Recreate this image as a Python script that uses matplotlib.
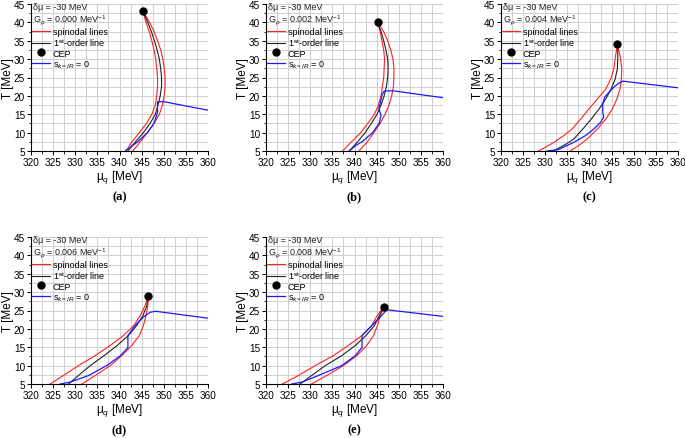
import matplotlib.pyplot as plt
import numpy as np

plt.rcParams['font.family'] = ['Liberation Sans', 'DejaVu Sans']
plt.rcParams['mathtext.fontset'] = 'custom'
plt.rcParams['mathtext.rm'] = 'Liberation Sans'
plt.rcParams['mathtext.it'] = 'Liberation Sans:italic'

# ---- data (mu_q in MeV, T in MeV) ----
g_rho = ["0.000", "0.002", "0.004", "0.006", "0.008"]
panel_tags = ["(a)", "(b)", "(c)", "(d)", "(e)"]

cep_mu = [345.3, 345.2, 346.3, 346.5, 346.6]
cep_T = [43.0, 40.0, 34.0, 29.0, 25.9]

# (a) G = 0.000
T_a = [5, 7.5, 10, 12.5, 15, 17.5, 20, 22.5, 25, 27.5, 30, 32.5, 35, 37.5, 40, 43]
spin_out_a = [343.0, 344.7, 346.3, 347.8, 349.0, 349.7, 350.1, 350.3, 350.3, 350.1, 349.8, 349.3, 348.6, 347.8, 346.8, 345.3]
first_a = [341.9, 343.6, 345.4, 346.9, 348.1, 348.7, 349.2, 349.5, 349.5, 349.3, 349.0, 348.5, 347.9, 347.2, 346.4, 345.3]
spin_in_a = [341.5, 342.8, 344.5, 346.1, 347.3, 348.1, 348.4, 348.6, 348.6, 348.4, 348.2, 347.8, 347.3, 346.7, 346.0, 345.3]
blue_mu_a = [341.3, 344.1, 346.3, 347.8, 348.6, 348.6, 350.1, 360]
blue_T_a = [5, 7.5, 10, 12.5, 15.6, 18.4, 18.4, 16.1]

# (b) G = 0.002
T_b = [5, 7.5, 10, 12.5, 15, 17.5, 20, 22.5, 25, 27.5, 30, 32.5, 35, 37.5, 40]
spin_in_b = [337.3, 339.3, 341.4, 343.0, 344.5, 345.4, 346.0, 346.3, 346.6, 346.7, 346.8, 346.6, 346.2, 345.8, 345.2]
first_b = [338.8, 340.7, 342.4, 343.8, 345.1, 346.0, 346.7, 347.2, 347.5, 347.6, 347.5, 347.1, 346.6, 346.0, 345.2]
spin_out_b = [341.0, 342.9, 344.4, 345.8, 346.9, 347.8, 348.4, 348.8, 348.9, 348.9, 348.7, 348.2, 347.5, 346.6, 345.2]
blue_mu_b = [338.8, 340.3, 341.8, 344.1, 345.6, 346.0, 345.5, 345.9, 346.2, 346.7, 348.6, 360]
blue_T_b = [5, 6.5, 7.6, 10, 12.6, 14.7, 16.6, 18.4, 20.2, 21.3, 21.4, 19.5]

# (c) G = 0.004
T_out_c = [5, 6.5, 8.3, 11, 13.7, 16.5, 19.2, 21.9, 24.6, 27.4, 31, 34]
spin_out_c = [335.6, 337.6, 339.5, 341.8, 343.7, 345.2, 346.2, 346.9, 347.2, 347.3, 346.9, 346.3]
T_in_c = [5, 7.3, 9.2, 11, 13.7, 16.5, 19.2, 21.9, 24.6, 27.4, 31, 34]
spin_in_c = [328.5, 331.9, 334.2, 336.1, 338.0, 339.9, 341.8, 343.7, 344.8, 345.5, 345.9, 346.3]
T_first_c = [5, 6.8, 8.3, 11, 13.7, 16.5, 19.2, 21.9, 24.6, 27.4, 31, 34]
first_c = [331.8, 334.6, 336.5, 338.5, 340.4, 342.2, 343.7, 344.9, 345.8, 346.3, 346.4, 346.3]
blue_mu_c = [330.4, 333.0, 336.5, 339.1, 341.0, 342.5, 343.2, 343.0, 343.0, 343.4, 344.4, 345.5, 346.9, 347.6, 360]
blue_T_c = [5, 5.4, 7.4, 9.2, 11.0, 12.8, 14.2, 15.5, 17.8, 19.6, 21.0, 22.4, 23.7, 24.0, 22.2]

# (d) G = 0.006
T_d = [5, 7.3, 10, 12.7, 15.5, 18.2, 20.9, 23.6, 26.4, 29]
spin_out_d = [331.5, 334.5, 337.9, 340.5, 342.8, 344.5, 345.4, 346.0, 346.4, 346.5]
spin_in_d = [324.3, 327.3, 330.7, 334.5, 337.9, 340.9, 343.2, 344.7, 345.8, 346.5]
first_d = [328.5, 330.7, 333.4, 336.5, 339.5, 342.0, 343.9, 345.3, 346.2, 346.5]
blue_mu_d = [326.6, 328.8, 333.0, 337.1, 340.2, 341.3, 341.9, 341.9, 343.5, 345.4, 346.9, 348.1, 360]
blue_T_d = [5, 5.5, 7.3, 10, 12.7, 14.1, 14.9, 18.2, 20.9, 23.2, 24.5, 24.8, 22.9]

# (e) G = 0.008
T_e = [5, 7.3, 10, 12.7, 15.5, 18.2, 20.9, 23.6, 25.9]
spin_out_e = [330.3, 333.7, 337.5, 340.5, 342.8, 344.3, 345.2, 345.8, 346.6]
spin_in_e = [323.7, 327.3, 331.1, 335.2, 338.6, 341.7, 343.9, 345.1, 346.6]
first_e = [327.7, 330.3, 333.4, 337.1, 340.2, 342.6, 344.5, 345.6, 346.6]
blue_mu_e = [325.8, 328.1, 331.8, 337.1, 340.2, 341.1, 341.7, 341.7, 343.9, 345.8, 347.3, 360]
blue_T_e = [5, 5.5, 7.3, 10, 12.7, 14.1, 14.9, 18.2, 20.9, 23.2, 25.2, 23.4]

panels = [
    (spin_out_a, T_a, spin_in_a, T_a, first_a, T_a, blue_mu_a, blue_T_a),
    (spin_out_b, T_b, spin_in_b, T_b, first_b, T_b, blue_mu_b, blue_T_b),
    (spin_out_c, T_out_c, spin_in_c, T_in_c, first_c, T_first_c, blue_mu_c, blue_T_c),
    (spin_out_d, T_d, spin_in_d, T_d, first_d, T_d, blue_mu_d, blue_T_d),
    (spin_out_e, T_e, spin_in_e, T_e, first_e, T_e, blue_mu_e, blue_T_e),
]

fig = plt.figure(figsize=(6.85, 4.39), dpi=100)

W, H = 685.0, 439.0
lefts = [31, 266, 501, 31, 266]
tops = [5, 5, 5, 238, 238]
aw, ah = 177, 147

for i, (so, tso, si, tsi, fo, tfo, bm, bt) in enumerate(panels):
    ax = fig.add_axes([lefts[i] / W, 1 - (tops[i] + ah) / H, aw / W, ah / H])
    ax.set_xlim(320, 360)
    ax.set_ylim(5, 45)
    ax.set_xticks(np.arange(320, 361, 5))
    ax.set_yticks(np.arange(5, 46, 5))
    ax.set_xticks(np.arange(322.5, 360, 5), minor=True)
    ax.set_yticks(np.arange(7.5, 45, 5), minor=True)
    ax.grid(True, which='both', color='#cfcfcf', lw=0.7)
    ax.set_axisbelow(True)
    for s in ['top', 'right']:
        ax.spines[s].set_visible(False)
    for s in ['left', 'bottom']:
        ax.spines[s].set_linewidth(0.8)
    ax.tick_params(which='major', direction='out', length=3, width=0.7, labelsize=7.2, pad=1.2)
    ax.tick_params(which='minor', direction='out', length=1.8, width=0.6)

    l1, = ax.plot(so, tso, color='#ff2020', lw=0.8, label='spinodal lines')
    ax.plot(si, tsi, color='#ff2020', lw=0.8)
    l2, = ax.plot(fo, tfo, color='#222222', lw=0.8, label='1$^{\\rm st}$-order line')
    l4, = ax.plot(bm, bt, color='#1a1aff', lw=0.9, label='s$_{k=IR}$ = 0')
    l3, = ax.plot([cep_mu[i]], [cep_T[i]], 'o', color='black', ms=5, ls='none',
                  label='CEP', zorder=5)

    ax.text(0.012, 0.985, 'δμ = -30 MeV', transform=ax.transAxes, va='center',
            ha='left', fontsize=6.5, color='#222222')
    ax.text(0.012, 0.898, 'G$_\\rho$ = ' + g_rho[i] + ' MeV$^{-1}$', transform=ax.transAxes,
            va='center', ha='left', fontsize=6.5, color='#222222')
    ax.legend(handles=[l1, l2, l3, l4], loc='upper left', bbox_to_anchor=(0.0, 0.85),
              frameon=False, fontsize=6.5, borderpad=0.1, borderaxespad=0,
              handlelength=2.0, handletextpad=0.3, labelspacing=0.05)

    ax.set_xlabel('μ$_q$ [MeV]', fontsize=8.5, labelpad=1)
    ax.set_ylabel('T [MeV]', fontsize=8.5, va='center')
    ax.yaxis.set_label_coords(-0.13, 0.5)

    fig.text((lefts[i] + aw / 2) / W, 1 - (tops[i] + 192) / H, panel_tags[i],
             ha='center', va='center', fontsize=9, fontweight='bold',
             family='Liberation Serif')

fig.savefig('out.png', dpi=100)
